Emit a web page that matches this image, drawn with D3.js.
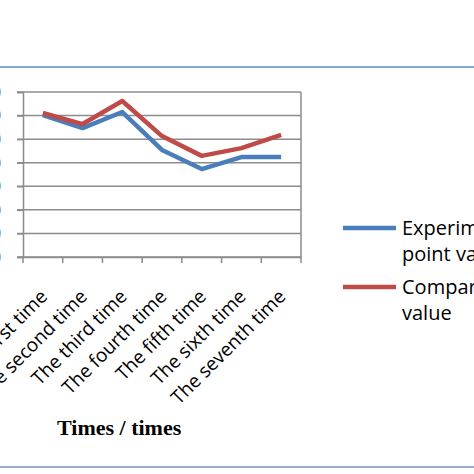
<!DOCTYPE html>
<html>
<head>
<meta charset="utf-8">
<script src="https://cdn.jsdelivr.net/npm/d3@7"></script>
<style>
  body { margin: 0; background: #fff; }
  svg { display: block; }
</style>
</head>
<body>
<div id="chart"></div>
<script>
// Daten
const categories = ["The first time", "The second time", "The third time", "The fourth time",
    "The fifth time", "The sixth time", "The seventh time"];
const experimental = [6.02, 5.47, 6.15, 4.54, 3.73, 4.24, 4.24];
const comparison = [6.11, 5.64, 6.62, 5.13, 4.29, 4.62, 5.18];
const yTicks = [0, 1, 2, 3, 4, 5, 6, 7];
const seriesNames = [["Experimental", "point value"], ["Comparison", "value"]];
const seriesColors = ["#4a7ebb", "#be4b48"];

const W = 474, H = 474;
const plotLeft = 23, plotRight = 301, plotTop = 92, plotBottom = 257;

const svg = d3.select("#chart").append("svg")
    .attr("width", W)
    .attr("height", H);

// blaue Rahmenlinien oben und unten
svg.append("line").attr("x1", 0).attr("x2", W).attr("y1", 67).attr("y2", 67)
    .attr("stroke", "#5b8ec6").attr("stroke-width", 1.5);
svg.append("line").attr("x1", 0).attr("x2", W).attr("y1", 467).attr("y2", 467)
    .attr("stroke", "#7393b8").attr("stroke-width", 1.5);

const x = d3.scaleBand().domain(categories).range([plotLeft, plotRight]);
const y = d3.scaleLinear().domain([0, 7]).range([plotBottom, plotTop]);

// Gitterlinien
svg.append("g")
    .selectAll("line")
    .data(yTicks)
    .enter()
    .append("line")
    .attr("x1", plotLeft - 6)
    .attr("x2", plotRight)
    .attr("y1", d => y(d))
    .attr("y2", d => y(d))
    .attr("stroke", "#8c8c8c")
    .attr("stroke-width", 1.5);

// rechter Rand
svg.append("line").attr("x1", plotRight).attr("x2", plotRight).attr("y1", plotTop).attr("y2", plotBottom)
    .attr("stroke", "#8c8c8c").attr("stroke-width", 1.5);

// y-Achse (Beschriftung liegt fast ganz ausserhalb des Bildes)
const yAxis = svg.append("g")
    .attr("transform", `translate(${plotLeft},0)`)
    .call(d3.axisLeft(y).tickValues(yTicks).tickSize(6).tickPadding(16));
yAxis.select(".domain").attr("stroke", "#8c8c8c").attr("stroke-width", 1.5);
yAxis.selectAll(".tick line").attr("stroke", "#8c8c8c").attr("stroke-width", 1.5);
yAxis.selectAll(".tick text")
    .style("font-family", "Liberation Serif")
    .style("font-size", "20px")
    .style("font-weight", "bold")
    .attr("fill", "#000");

// x-Achse
const xAxis = svg.append("g")
    .attr("transform", `translate(0,${plotBottom})`)
    .call(d3.axisBottom(x).tickSize(0).tickFormat(""));
xAxis.select(".domain").attr("stroke", "#8c8c8c").attr("stroke-width", 1.5);

// Teilstriche zwischen den Kategorien
svg.append("g")
    .selectAll("line")
    .data(categories.concat(["end"]))
    .enter()
    .append("line")
    .attr("x1", (d, i) => plotLeft + i * x.step())
    .attr("x2", (d, i) => plotLeft + i * x.step())
    .attr("y1", plotBottom)
    .attr("y2", plotBottom + 6)
    .attr("stroke", "#8c8c8c")
    .attr("stroke-width", 1.5);

// Kategorienbeschriftung, gedreht
svg.append("g")
    .selectAll("text")
    .data(categories)
    .enter()
    .append("text")
    .attr("transform", d => `translate(${x(d) + x.bandwidth() / 2 + 1},${plotBottom + 36}) rotate(-45)`)
    .attr("text-anchor", "end")
    .attr("dy", "0.35em")
    .style("font-family", "Open Sans")
    .style("font-size", "19px")
    .attr("fill", "#000")
    .text(d => d);

// Linien
const line = d3.line()
    .x((d, i) => x(categories[i]) + x.bandwidth() / 2)
    .y(d => y(d));

[experimental, comparison].forEach((vals, k) => {
    svg.append("path")
        .datum(vals)
        .attr("d", line)
        .attr("fill", "none")
        .attr("stroke", seriesColors[k])
        .attr("stroke-width", 4.5)
        .attr("stroke-linejoin", "round");
});

// Achsentitel
svg.append("text")
    .attr("x", 57)
    .attr("y", 435)
    .style("font-family", "Liberation Serif")
    .style("font-size", "22px")
    .style("font-weight", "bold")
    .attr("fill", "#000")
    .text("Times / times");

// Legende
const legend = svg.append("g");
seriesNames.forEach((lines, k) => {
    const ly = 228 + k * 59;
    legend.append("line")
        .attr("x1", 343).attr("x2", 396)
        .attr("y1", ly).attr("y2", ly)
        .attr("stroke", seriesColors[k])
        .attr("stroke-width", 4.5);
    lines.forEach((t, j) => {
        legend.append("text")
            .attr("x", 402)
            .attr("y", ly + 7 + j * 26)
            .style("font-family", "Open Sans")
            .style("font-size", "20px")
            .attr("fill", "#000")
            .text(t);
    });
});
</script>
</body>
</html>
